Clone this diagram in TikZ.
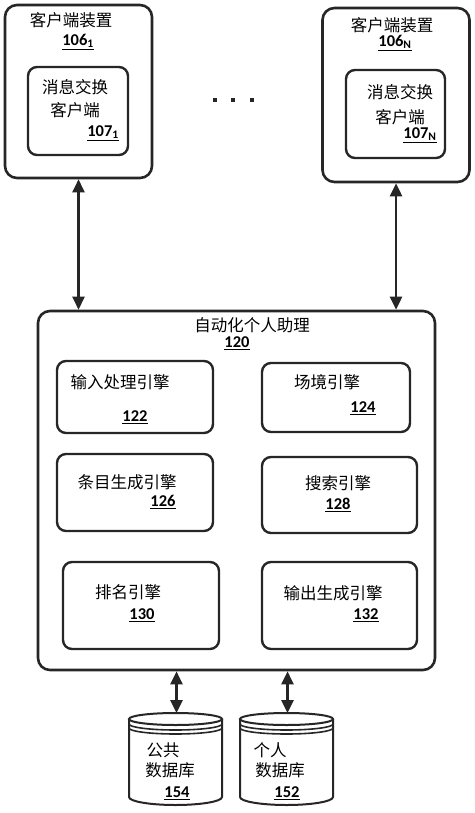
\documentclass[tikz,border=0pt]{standalone}
\usepackage{fontspec}
\setmainfont{Carlito}
\newfontfamily\cjk{Noto Sans CJK SC}
\usepackage{tikz}
\usetikzlibrary{arrows.meta}

\newcommand{\refno}[1]{\underline{\textbf{#1}}}

\begin{document}
\begin{tikzpicture}[x=1pt,y=-1pt,
  box/.style={draw=black!85, line width=2.6pt, rounded corners=12pt, inner sep=0pt},
  inbox/.style={draw=black!85, line width=2.4pt, rounded corners=9pt, inner sep=0pt},
  lbl/.style={font=\cjk\fontsize{16.5}{19}\selectfont, inner sep=0pt},
  refl/.style={font=\fontsize{16.5}{19}\selectfont, inner sep=0pt},
  link/.style={line width=2.6pt, black!85, {Triangle[length=13pt,width=12pt]}-{Triangle[length=13pt,width=12pt]}}]
  \useasboundingbox (0,0) rectangle (474,813);
  % client devices
   \node[box, minimum width=147pt, minimum height=173pt] (client1) at (78.5,91.5) {};
   \node[inbox, minimum width=100pt, minimum height=88pt] (msg1) at (78,111) {};
   \node[box, minimum width=147pt, minimum height=174pt] (clientN) at (396,95) {};
   \node[inbox, minimum width=99pt, minimum height=88pt] (msgN) at (395.5,114) {};
    \node[lbl] (client1t) at (71,20) {客户端装置};
    \node[refl] (client1n) at (78,42) {\refno{106\textsubscript{1}}};
    \node[lbl] (msg1a) at (75,87) {消息交换};
    \node[lbl] (msg1b) at (75,110) {客户端};
    \node[refl] (msg1n) at (103,133) {\refno{107\textsubscript{1}}};
    \node[lbl] (clientNt) at (392,25) {客户端装置};
    \node[refl] (clientNn) at (395,43) {\refno{106\textsubscript{N}}};
    \node[lbl] (msgNa) at (400,92) {消息交换};
    \node[lbl] (msgNb) at (400,117) {客户端};
    \node[refl] (msgNn) at (420,135) {\refno{107\textsubscript{N}}};
  \fill[black!85] (213,98) rectangle (217,102);
  \fill[black!85] (231,98) rectangle (235,102);
  \fill[black!85] (250,98) rectangle (254,102);
  % assistant
   \node[box, minimum width=397pt, minimum height=359pt] (main) at (236.5,490.5) {};
    \node[lbl] (maint) at (252,325) {自动化个人助理};
    \node[refl] (mainn) at (237,343) {\refno{120}};
   \node[inbox, minimum width=156pt, minimum height=72pt] (input) at (135,397) {};
   \node[inbox, minimum width=148pt, minimum height=69pt] (context) at (336,397.5) {};
   \node[inbox, minimum width=156pt, minimum height=77pt] (item) at (135,492.5) {};
   \node[inbox, minimum width=155pt, minimum height=76pt] (search) at (339.5,495) {};
   \node[inbox, minimum width=156pt, minimum height=87pt] (rank) at (141,605.5) {};
   \node[inbox, minimum width=155pt, minimum height=87pt] (output) at (339.5,605.5) {};
    \node[lbl] (inputt) at (120,382) {输入处理引擎};
    \node[refl] (inputn) at (135,417) {\refno{122}};
    \node[lbl] (contextt) at (327,382) {场境引擎};
    \node[refl] (contextn) at (363,408) {\refno{124}};
    \node[lbl] (itemt) at (127,482) {条目生成引擎};
    \node[refl] (itemn) at (163,502) {\refno{126}};
    \node[lbl] (searcht) at (338,483) {搜索引擎};
    \node[refl] (searchn) at (338,505) {\refno{128}};
    \node[lbl] (rankt) at (128,592) {排名引擎};
    \node[refl] (rankn) at (142,615) {\refno{130}};
    \node[lbl] (outputt) at (333,593) {输出生成引擎};
    \node[refl] (outputn) at (366,615) {\refno{132}};
  % databases
  \foreach \cx/\nm in {175.5/pub, 286.5/pri}{
    \draw[black!85, line width=2pt] (\cx-46.5,719) -- (\cx-46.5,797)
        arc[start angle=180, end angle=360, x radius=46.5pt, y radius=8pt] -- (\cx+46.5,719);
    \draw[black!85, line width=2pt] (\cx,719) ellipse[x radius=46.5pt, y radius=6pt];
    \draw[black!85, line width=1.6pt] (\cx-46.5,724) arc[start angle=180, end angle=360, x radius=46.5pt, y radius=6pt];
    \draw[black!85, line width=1.6pt] (\cx-46.5,728) arc[start angle=180, end angle=360, x radius=46.5pt, y radius=6pt];
    \coordinate (\nm) at (\cx+1,713);
  }
    \node[lbl] (pubt) at (163,750) {公共};
    \node[lbl] (pubb) at (170,770) {数据库};
    \node[refl] (pubn) at (177,793) {\refno{154}};
    \node[lbl] (prit) at (270,750) {个人};
    \node[lbl] (prib) at (280,770) {数据库};
    \node[refl] (prin) at (287,793) {\refno{152}};
  % links
   \draw[link] (client1.south) -- (main.north -| client1.south);
   \draw[link] (clientN.south) -- (main.north -| clientN.south);
   \draw[link] (main.south -| pub) -- (pub);
   \draw[link] (main.south -| pri) -- (pri);
\end{tikzpicture}
\end{document}
